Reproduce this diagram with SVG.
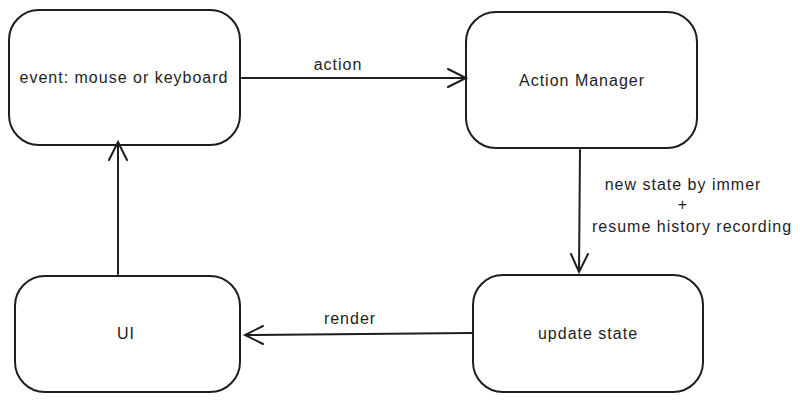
<svg xmlns="http://www.w3.org/2000/svg" width="800" height="403" viewBox="0 0 800 403">
<style>
.box{fill:#fff;stroke:#1e1e1e;stroke-width:2}
.t{font-family:"Liberation Sans",sans-serif;font-size:16px;letter-spacing:1px;fill:#1e1e1e;text-anchor:middle;dominant-baseline:central}
.c{stroke:#1e1e1e;stroke-width:2;fill:none;stroke-linecap:round}
</style>
<rect width="800" height="403" fill="#fff"/>
<g id="event"><rect class="box" x="9" y="10" width="231" height="135" rx="30"/><text class="t" x="124" y="77">event: mouse or keyboard</text></g>
<g id="action-manager"><rect class="box" x="466" y="12" width="231" height="136" rx="30"/><text class="t" x="582" y="80">Action Manager</text></g>
<g id="update-state"><rect class="box" x="473" y="275" width="230" height="117" rx="30"/><text class="t" x="588" y="333">update state</text></g>
<g id="ui"><rect class="box" x="15" y="276" width="225" height="116" rx="30"/><text class="t" x="126" y="333">UI</text></g>
<g id="connectors">
<path class="c" d="M242 78 L466 78 M448 69 L466 78 L448 87"/>
<path class="c" d="M580 150 L579 272 M571 254 L579 272 L588 254"/>
<path class="c" d="M472 333 L245 335 M263 326 L245 335 L263 344"/>
<path class="c" d="M118 274 L118 142 M109 160 L118 142 L127 160"/>
<text class="t" x="338" y="64">action</text>
<text class="t" x="683" y="184">new state by immer</text>
<text class="t" x="683" y="204">+</text>
<text class="t" x="692" y="226">resume history recording</text>
<text class="t" x="350" y="318">render</text>
</g>
</svg>
